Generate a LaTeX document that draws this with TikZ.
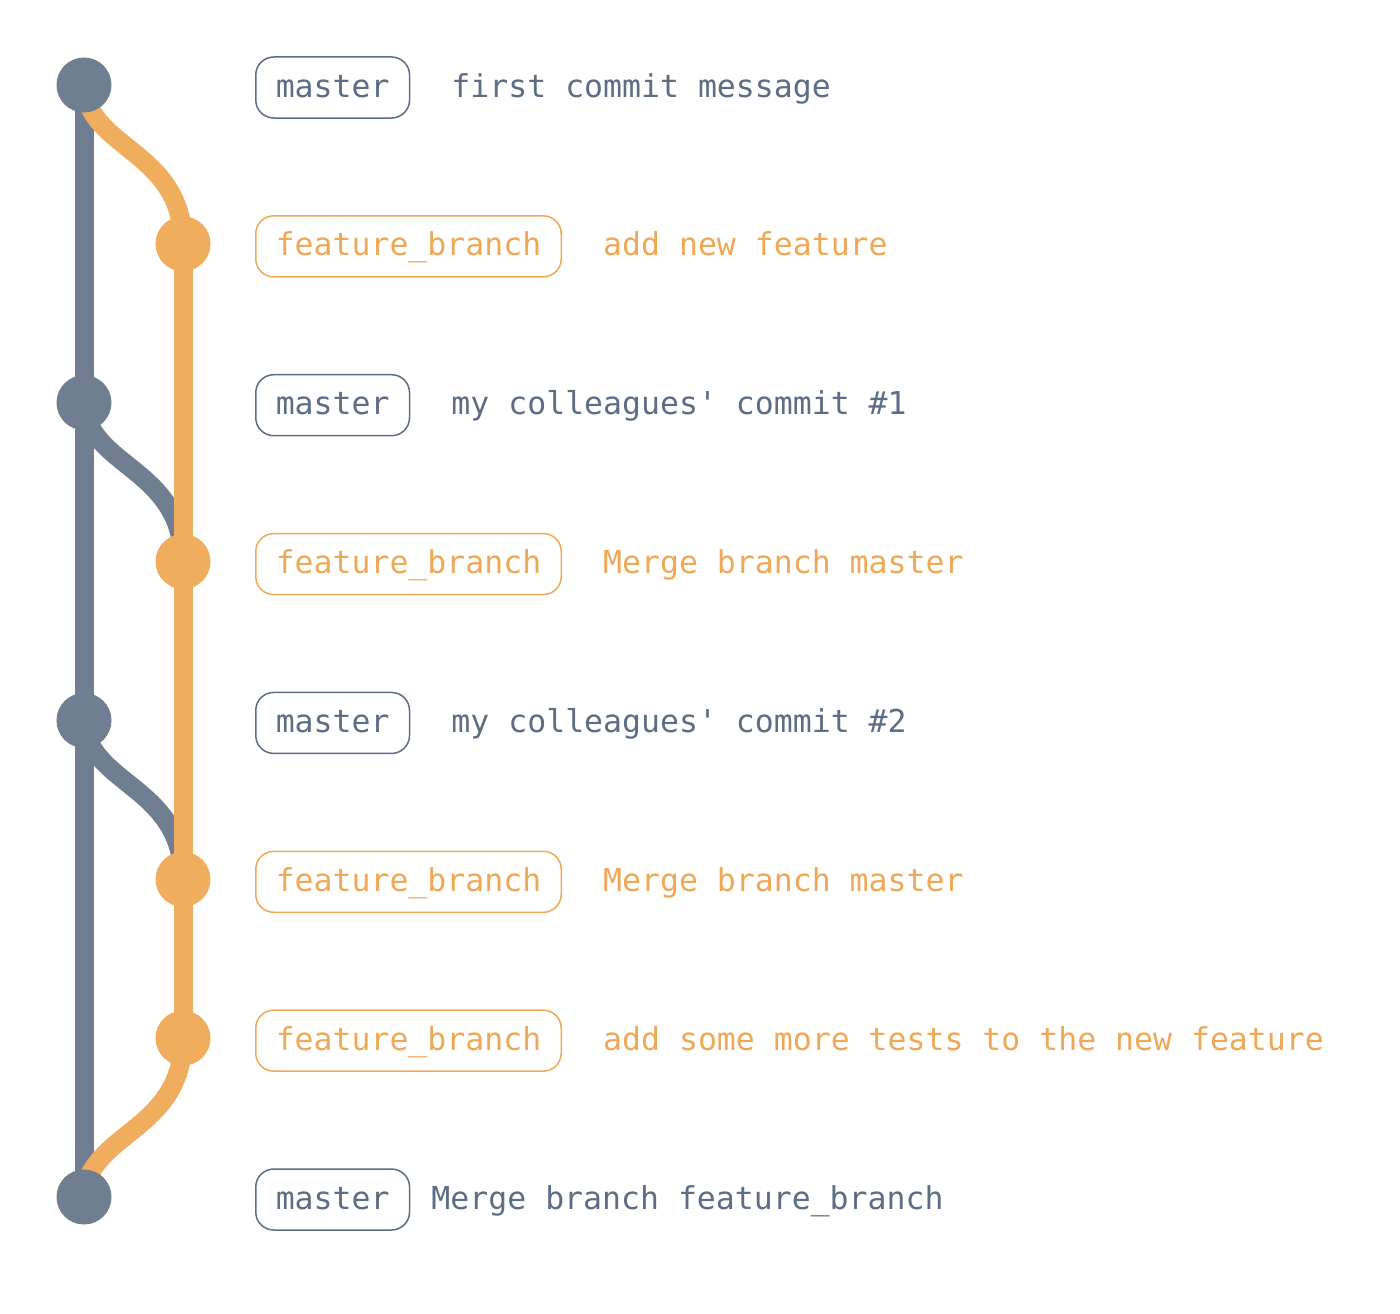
\documentclass[tikz,border=0pt]{standalone}
\usepackage{fontspec}
\setmonofont{DejaVu Sans Mono}
\usetikzlibrary{positioning,backgrounds}
\definecolor{mgrey}{HTML}{6F7E91}
\definecolor{mtext}{HTML}{5D6D84}
\definecolor{forange}{HTML}{F0AD5E}
\definecolor{ftext}{HTML}{EFA856}
\begin{document}
\begin{tikzpicture}[x=1pt,y=-1pt,
  every node/.style={font=\ttfamily\fontsize{31.5}{36}\selectfont},
  commit/.style={circle,minimum size=55pt,inner sep=0pt},
  mcommit/.style={commit,fill=mgrey},
  fcommit/.style={commit,fill=forange},
  tagbox/.style={draw,line width=1.5pt,rounded corners=18pt,minimum height=61pt,
    inner xsep=20pt,inner ysep=0pt,text height=23pt,text depth=4pt,anchor=west},
  mtag/.style={tagbox,draw=mtext,text=mtext},
  ftag/.style={tagbox,draw=ftext,text=ftext},
  msg/.style={inner sep=0pt,text height=23pt,text depth=4pt},
  mmsg/.style={msg,text=mtext},
  fmsg/.style={msg,text=ftext},
  mline/.style={draw=mgrey,line width=19pt},
  fline/.style={draw=forange,line width=19pt}
]
\useasboundingbox (0,0) rectangle (1400,1314);

% commits
\node[mcommit] (m1) at (84,85) {};
\node[fcommit] (f1) at (183,243.86) {};
\node[mcommit] (m2) at (84,402.71) {};
\node[fcommit] (f2) at (183,561.57) {};
\node[mcommit] (m3) at (84,720.43) {};
\node[fcommit] (f3) at (183,879.29) {};
\node[fcommit] (f4) at (183,1038.14) {};
\node[mcommit] (m4) at (84,1197) {};

% connectors
\begin{pgfonlayer}{background}
  \path[mline] (m2.center) .. controls +(4,65) and +(0,-94) .. (f2.center);
  \path[mline] (m3.center) .. controls +(4,65) and +(0,-94) .. (f3.center);
  \path[mline] (m1.center) -- (m4.center);
  \path[fline] (m1.center) .. controls +(4,65) and +(0,-94) .. (f1.center);
  \path[fline] (f4.center) .. controls +(0,94) and +(4,-65) .. (m4.center);
  \path[fline] (f1.center) -- (f4.center);
\end{pgfonlayer}

% tags
\node[mtag] (b1) at (255,87.5) {master};
\node[ftag] (b2) at (255,246.36) {feature\_branch};
\node[mtag] (b3) at (255,405.21) {master};
\node[ftag] (b4) at (255,564.07) {feature\_branch};
\node[mtag] (b5) at (255,722.93) {master};
\node[ftag] (b6) at (255,881.79) {feature\_branch};
\node[ftag] (b7) at (255,1040.64) {feature\_branch};
\node[mtag] (b8) at (255,1199.5) {master};

% messages
\node[mmsg,right=41pt of b1] (t1) {first commit message};
\node[fmsg,right=41pt of b2] (t2) {add new feature};
\node[mmsg,right=41pt of b3] (t3) {my colleagues' commit \#1};
\node[fmsg,right=41pt of b4] (t4) {Merge branch master};
\node[mmsg,right=41pt of b5] (t5) {my colleagues' commit \#2};
\node[fmsg,right=41pt of b6] (t6) {Merge branch master};
\node[fmsg,right=41pt of b7] (t7) {add some more tests to the new feature};
\node[mmsg,right=21pt of b8] (t8) {Merge branch feature\_branch};
\end{tikzpicture}
\end{document}
